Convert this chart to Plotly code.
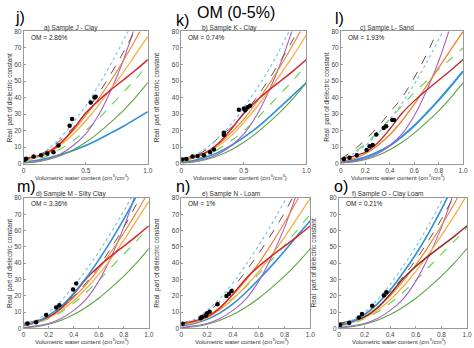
import plotly.graph_objects as go

W, H = 474, 348

XS = [0.0, 0.1, 0.2, 0.3, 0.4, 0.5, 0.6, 0.7, 0.8, 0.9, 1.0]

# common model curves (same in every panel)
RED = [3, 4.5, 7, 12.5, 21, 30.5, 38, 44.5, 50.5, 56.5, 63]
PURPLE = [0.5, 1.5, 3, 6, 11, 18, 29, 44, 62, 84, 108]
GREEN_SOLID = [0.5, 1, 2.5, 5, 8.5, 13, 18.5, 25, 32, 40, 49]

# panel j
J_LBLUE = [2, 4.5, 9, 16, 25, 35, 47, 60, 74, 89, 105]
J_BROWN = [2.5, 4.5, 8.5, 14.5, 22, 31, 42, 54, 67, 81, 96]
J_ORANGE1 = [2, 4, 7.5, 13, 20, 29, 39, 50, 62, 75, 89]
J_ORANGE2 = [2, 3.5, 6.5, 11.5, 18, 26, 35, 45, 55, 66, 77]
J_GREENDASH = [1, 2.5, 5, 9, 14, 20, 27, 35, 43, 51, 60]
J_BLUE = [1, 2, 3.5, 5.5, 8, 11, 14.5, 18.5, 22.5, 27, 31.5]
J_PX = [0.005, 0.02, 0.08, 0.14, 0.19, 0.24, 0.28, 0.37, 0.39, 0.54, 0.57, 0.58]
J_PY = [2.4, 3, 4.4, 5.2, 6.2, 7, 11, 23, 27, 37, 40, 40.5]

# panel k
K_LBLUE = [2.5, 5, 9.5, 16, 24, 34, 45, 57, 71, 86, 102]
K_BROWN = [2.5, 4.5, 8.5, 16, 22, 30, 40, 51, 63, 76, 90]
K_ORANGE1 = [2, 3.5, 7, 12, 19, 27, 37, 48, 60, 73, 87]
K_ORANGE2 = [2, 3.5, 6.5, 11, 17, 25, 34, 44, 55, 66, 78]
K_GREENDASH = [1, 2.5, 5, 9, 14, 20, 27, 35, 43, 51, 60]
K_BLUE = [1, 2, 4, 7, 11, 16, 21.5, 28, 35, 42, 49]
K_PX = [0.005, 0.04, 0.09, 0.13, 0.18, 0.23, 0.26, 0.34, 0.34, 0.46, 0.5, 0.51, 0.53, 0.55]
K_PY = [2.6, 2.8, 4.3, 4.7, 5.1, 7, 8.6, 17.3, 18.7, 32.6, 33.4, 32.4, 34.2, 35]

# panel l
L_LBLUE = [2, 6, 11, 18, 27, 36.5, 48, 61, 75, 90, 106]
L_BROWN = [3, 8, 14.5, 22, 31, 40, 52, 66, 82, 99, 117]
L_ORANGE1 = [1.5, 3, 6, 11, 17.5, 26, 36, 47, 58, 69, 80]
L_GREENDASH = [2.5, 6.5, 12, 19, 27, 35, 43, 50, 57, 63.5, 70]
L_BLUE = [1, 2, 4, 7, 11, 16.5, 23, 30.5, 38.5, 47, 56]
L_PX = [0.024, 0.07, 0.13, 0.21, 0.235, 0.26, 0.29, 0.35, 0.37, 0.42, 0.435]
L_PY = [2.8, 3.6, 5.1, 8.3, 10.5, 11.3, 17.6, 21.6, 22.6, 26.5, 26.5]

# panel m
M_LBLUE = [2.5, 5, 10, 17, 26, 36, 47, 59, 72, 86, 101]
M_BLUE = [2, 4, 8, 13.5, 21.5, 31, 42, 54, 67, 81, 96]
M_BROWN = [2, 4, 7.5, 12.5, 19.5, 28, 38, 49.5, 62, 76, 91]
M_ORANGE1 = [2, 3.5, 7, 12, 19, 27, 36.5, 47, 58.5, 71, 84]
M_ORANGE2 = [2, 3.5, 6.5, 11, 17, 24.5, 33, 43, 54, 66, 78]
M_GREENDASH = [1.5, 3, 6, 10, 15.5, 22, 29.5, 37.5, 45.5, 53.5, 62]
M_PX = [0.03, 0.1, 0.18, 0.26, 0.285, 0.395, 0.42]
M_PY = [3, 3.8, 8.2, 12.8, 14.2, 23.8, 27.5]

# panel n
N_LBLUE = [2.5, 5.5, 11, 18.5, 28, 39, 51, 64, 78, 93, 109]
N_BROWN = [3, 5.5, 10, 16.5, 25, 35, 46, 58, 71, 86, 101]
N_ORANGE1 = [2, 4, 7.5, 13, 20.5, 29.5, 40, 52, 65, 79, 94]
N_ORANGE2 = [2, 3.5, 6.5, 11.5, 18, 26, 35, 45, 56, 68, 80]
N_GREENDASH = [2, 4, 7.5, 12.5, 18.5, 25.5, 33.5, 42, 51, 60.5, 70]
N_BLUE = [1.5, 3, 5.5, 9.5, 15, 22, 30, 38.5, 47.5, 57, 66]
N_PX = [0.01, 0.15, 0.16, 0.19, 0.2, 0.22, 0.28, 0.35, 0.37, 0.39]
N_PY = [2.8, 6.2, 7, 7.8, 9.2, 10.2, 14.8, 19.8, 21.3, 22.9]

# panel o
O_LBLUE = [2, 5, 10, 17.5, 27, 38, 50, 63.5, 78, 94, 111]
O_BLUE = [2, 4, 8.5, 15, 23.5, 34, 45.5, 58.5, 73, 89, 106]
O_BROWN = [2.5, 5, 9, 15, 22.5, 31.5, 42, 54, 67, 81.5, 97]
O_ORANGE1 = [2, 4, 7.5, 13, 20, 29, 39, 50.5, 63, 76.5, 91]
O_ORANGE2 = [2, 3.5, 6.5, 11, 17.5, 25.5, 35, 45.5, 57, 69, 82]
O_GREENDASH = [1.5, 3, 6, 10, 15.5, 22, 29.5, 37.5, 45.5, 53.5, 62]
O_PX = [0.01, 0.08, 0.156, 0.18, 0.26, 0.35, 0.37]
O_PY = [2.2, 3.4, 6.6, 8.8, 13.8, 20.2, 22.2]

LETTERS = ["j)", "k)", "l)", "m)", "n)", "o)"]
SUBTITLES = ["a) Sample J - Clay", "b) Sample K - Clay", "c) Sample L- Sand",
             "d) Sample M - Silty Clay", "e) Sample N - Loam", "f) Sample O - Clay Loam"]
OM_TEXT = ["OM = 2.86%", "OM = 0.74%", "OM = 1.93%", "OM = 3.36%", "OM = 1%", "OM = 0.21%"]
XTICKS_A = [0, 0.5, 1.0]
XTICKS_A_TXT = ["0", "0.5", "1.0"]
XTICKS_B = [0, 0.2, 0.4, 0.6, 0.8, 1.0]
XTICKS_B_TXT = ["0", "0.2", "0.4", "0.6", "0.8", "1.0"]
YTICKS = [0, 10, 20, 30, 40, 50, 60, 70, 80]
MAIN_TITLE = "OM (0-5%)"
XTITLE = "Volumetric water content (cm<sup>3</sup>/cm<sup>3</sup>)"
YTITLE = "Real  part of dielectric constant"

C_LBLUE = "#7cc4e8"
C_BROWN = "#7b4a3c"
C_OR1 = "#f0802a"
C_OR2 = "#f7ae45"
C_RED = "#d8232a"
C_GD = "#5fd24a"
C_GREEN = "#5ba443"
C_BLUE = "#2f8fd8"
C_PURPLE = "#a561c9"

panels = [
    dict(curves=[(J_BLUE, C_BLUE, "solid", 1.6), (GREEN_SOLID, C_GREEN, "solid", 1.1),
                 (J_GREENDASH, C_GD, "dash", 1.1), (PURPLE, C_PURPLE, "solid", 1.1),
                 (J_ORANGE2, C_OR2, "solid", 1.3), (J_ORANGE1, C_OR1, "solid", 1.1),
                 (RED, C_RED, "solid", 1.5), (J_BROWN, C_BROWN, "dash", 1.0),
                 (J_LBLUE, C_LBLUE, "dot", 1.2)],
         px=J_PX, py=J_PY, ticks=(XTICKS_A, XTICKS_A_TXT),
         box=(22, 148, 28, 163)),
    dict(curves=[(K_BLUE, C_BLUE, "solid", 1.6), (GREEN_SOLID, C_GREEN, "solid", 1.1),
                 (K_GREENDASH, C_GD, "dash", 1.1), (PURPLE, C_PURPLE, "solid", 1.1),
                 (K_ORANGE2, C_OR2, "solid", 1.3), (K_ORANGE1, C_OR1, "solid", 1.1),
                 (RED, C_RED, "solid", 1.5), (K_BROWN, "#555555", "dash", 1.0),
                 (K_LBLUE, C_LBLUE, "dot", 1.2)],
         px=K_PX, py=K_PY, ticks=(XTICKS_A, XTICKS_A_TXT),
         box=(182, 309, 28, 163)),
    dict(curves=[(L_BLUE, C_BLUE, "solid", 2.0), (GREEN_SOLID, C_GREEN, "solid", 1.1),
                 (L_GREENDASH, C_GD, "dash", 1.1), (PURPLE, C_PURPLE, "solid", 1.1),
                 (L_ORANGE1, C_OR1, "solid", 1.3), (RED, "#b8282e", "solid", 1.3),
                 (L_BROWN, C_BROWN, "dash", 1.0), (L_LBLUE, C_LBLUE, "dot", 1.2)],
         px=L_PX, py=L_PY, ticks=(XTICKS_B, XTICKS_B_TXT),
         box=(344, 468, 28, 163)),
    dict(curves=[(GREEN_SOLID, C_GREEN, "solid", 1.1), (M_GREENDASH, C_GD, "dash", 1.1),
                 (PURPLE, C_PURPLE, "solid", 1.1), (M_ORANGE2, C_OR2, "solid", 1.3),
                 (M_ORANGE1, C_OR1, "solid", 1.1), (RED, C_RED, "solid", 1.5),
                 (M_BROWN, C_BROWN, "dash", 1.0), (M_BLUE, C_BLUE, "solid", 1.6),
                 (M_LBLUE, C_LBLUE, "dot", 1.2)],
         px=M_PX, py=M_PY, ticks=(XTICKS_B, XTICKS_B_TXT),
         box=(22, 149, 198, 331)),
    dict(curves=[(GREEN_SOLID, C_GREEN, "solid", 1.1), (N_BLUE, C_BLUE, "solid", 1.6),
                 (N_GREENDASH, C_GD, "dash", 1.1), (PURPLE, C_PURPLE, "solid", 1.1),
                 (N_ORANGE2, C_OR2, "solid", 1.3), (N_ORANGE1, C_OR1, "solid", 1.1),
                 (RED, C_RED, "solid", 1.5), (N_BROWN, C_BROWN, "dash", 1.0),
                 (N_LBLUE, C_LBLUE, "dot", 1.2)],
         px=N_PX, py=N_PY, ticks=(XTICKS_B, XTICKS_B_TXT),
         box=(182, 313, 198, 331)),
    dict(curves=[(GREEN_SOLID, C_GREEN, "solid", 1.1), (O_GREENDASH, C_GD, "dash", 1.1),
                 (PURPLE, C_PURPLE, "solid", 1.1), (O_ORANGE2, C_OR2, "solid", 1.3),
                 (O_ORANGE1, C_OR1, "solid", 1.1), (RED, "#8e2a2a", "solid", 1.5),
                 (O_BROWN, C_BROWN, "dash", 1.0), (O_BLUE, C_BLUE, "solid", 1.6),
                 (O_LBLUE, C_LBLUE, "dot", 1.2)],
         px=O_PX, py=O_PY, ticks=(XTICKS_B, XTICKS_B_TXT),
         box=(342, 472, 198, 331)),
]

letter_pos = [(18, 14), (183, 17), (343, 15), (25, 186), (184, 186), (344, 186)]
ylab_x = [8, 157, 329, 8, 157, 317]
xtitle_y = [177, 177, 177, 344, 344, 344]

fig = go.Figure()
layout = dict(width=W, height=H, margin=dict(l=0, r=0, t=0, b=0),
              paper_bgcolor="white", plot_bgcolor="white", showlegend=False,
              font=dict(family="Liberation Sans, Arial", color="#333333"))
annotations = []


def px2x(p):
    return p / W


def py2y(p):
    return 1 - p / H


for i, p in enumerate(panels):
    n = i + 1
    xa = "x" if n == 1 else f"x{n}"
    ya = "y" if n == 1 else f"y{n}"
    for ys, col, dash, lw in p["curves"]:
        fig.add_trace(go.Scatter(x=XS, y=ys, mode="lines", xaxis=xa, yaxis=ya,
                                 line=dict(color=col, dash=dash, width=lw, shape="spline"),
                                 hoverinfo="skip"))
    fig.add_trace(go.Scatter(x=p["px"], y=p["py"], mode="markers", xaxis=xa, yaxis=ya,
                             marker=dict(color="black", size=4.5)))
    x0, x1, y0, y1 = p["box"]
    tv, tt = p["ticks"]
    layout["xaxis" if n == 1 else f"xaxis{n}"] = dict(
        domain=[px2x(x0), px2x(x1)], anchor=ya, range=[0, 1.0], tickvals=tv, ticktext=tt,
        showgrid=False, zeroline=False, showline=True, linecolor="#999999", linewidth=1,
        mirror=True, ticks="inside", ticklen=2, tickcolor="#999999",
        tickfont=dict(size=6.5, color="#444444"))
    layout["yaxis" if n == 1 else f"yaxis{n}"] = dict(
        domain=[py2y(y1), py2y(y0)], anchor=xa, range=[0, 80], tickvals=YTICKS,
        showgrid=False, zeroline=False, showline=True, linecolor="#999999", linewidth=1,
        mirror=True, ticks="inside", ticklen=2, tickcolor="#999999",
        tickfont=dict(size=6.5, color="#444444"))
    cx = (x0 + x1) / 2
    lx, ly = letter_pos[i]
    annotations.append(dict(text=LETTERS[i], x=px2x(lx), y=py2y(ly), xref="paper", yref="paper",
                            showarrow=False, font=dict(size=16, color="black"),
                            xanchor="center", yanchor="middle"))
    annotations.append(dict(text=SUBTITLES[i], x=px2x(cx - 15), y=py2y(y0 - 4), xref="paper",
                            yref="paper", showarrow=False, font=dict(size=6.5, color="#333333"),
                            xanchor="center", yanchor="middle"))
    annotations.append(dict(text=OM_TEXT[i], x=px2x(x0 + 5), y=py2y(y0 + 6), xref="paper",
                            yref="paper", showarrow=False, font=dict(size=6.5, color="#222222"),
                            xanchor="left", yanchor="middle"))
    annotations.append(dict(text=XTITLE, x=px2x(cx - 4), y=py2y(xtitle_y[i]), xref="paper",
                            yref="paper", showarrow=False, font=dict(size=6, color="#333333"),
                            xanchor="center", yanchor="middle"))
    annotations.append(dict(text=YTITLE, x=px2x(ylab_x[i]), y=py2y((y0 + y1) / 2), xref="paper",
                            yref="paper", showarrow=False, textangle=-90,
                            font=dict(size=6.5, color="#333333"),
                            xanchor="center", yanchor="middle"))

annotations.append(dict(text=MAIN_TITLE, x=px2x(237), y=py2y(9), xref="paper", yref="paper",
                        showarrow=False, font=dict(size=16, color="black"),
                        xanchor="center", yanchor="middle"))
layout["annotations"] = annotations
fig.update_layout(**layout)
fig.write_html("out.html")
